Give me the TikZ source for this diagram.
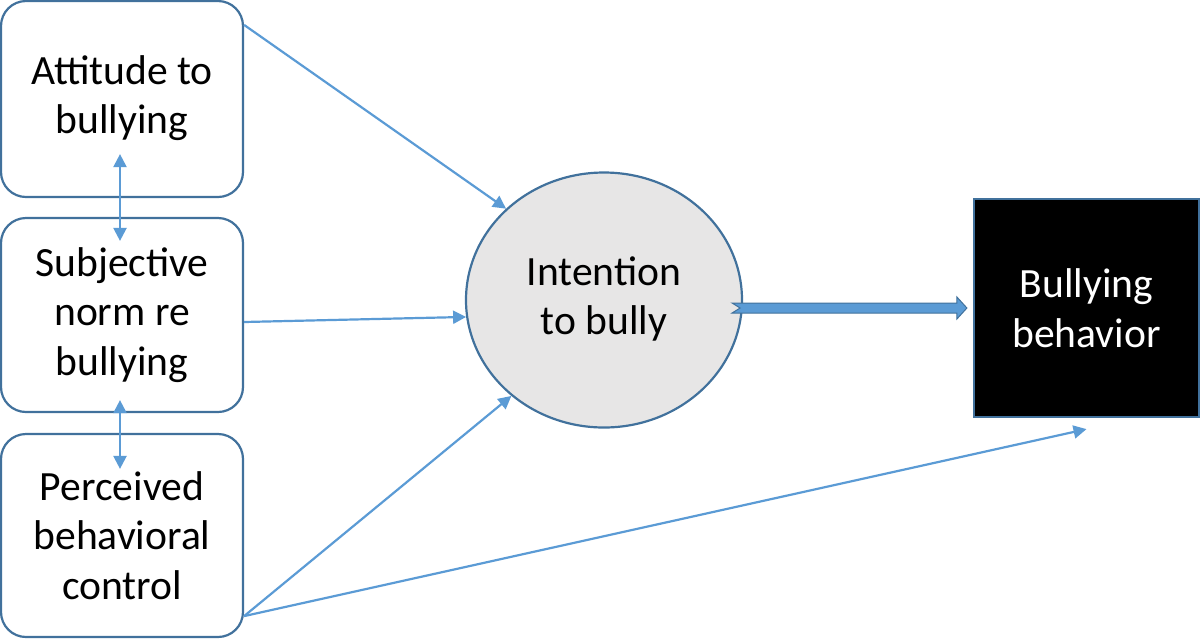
\documentclass[tikz,border=0pt]{standalone}
\usepackage{fontspec}
\setmainfont{Carlito}
\usetikzlibrary{shapes.geometric,arrows.meta,calc}
\definecolor{lineblue}{HTML}{5B9BD5}
\definecolor{borderblue}{HTML}{41719C}
\definecolor{circfill}{HTML}{E7E6E6}
\begin{document}
\begin{tikzpicture}[x=0.5pt,y=-0.5pt,
  font=\fontsize{20.8}{24.7}\selectfont,
  sbox/.style={draw=borderblue,line width=1.1pt,rounded corners=12.5pt,
    minimum width=121pt,align=center,inner sep=0pt,fill=white},
  conn/.style={draw=lineblue,line width=1.1pt,-{Triangle[length=6.5pt,width=6.5pt]}},
  dconn/.style={draw=lineblue,line width=1.1pt,{Triangle[length=6.5pt,width=6.5pt]}-{Triangle[length=6.5pt,width=6.5pt]}},
  thick arrow/.style={fill=lineblue,draw=borderblue,line width=0.5pt,line join=miter}
]
\useasboundingbox (0,0) rectangle (1200,639);

\node[sbox,minimum height=98pt] (b1) at (122,99) {\raisebox{-1.5pt}{\begin{tabular}{@{}c@{}}Attitude to\\bullying\end{tabular}}};
\node[sbox,minimum height=97pt] (b2) at (122,315) {Subjective\\norm re\\bullying};
\node[sbox,minimum height=101.5pt] (b3) at (122,535.5) {Perceived\\behavioral\\control};

\node[ellipse,draw=borderblue,line width=1.1pt,fill=circfill,
  minimum width=138pt,minimum height=127.5pt,inner sep=0pt] (int) at (604,300) {\raisebox{-3pt}{\begin{tabular}{@{}c@{}}Intention\\to bully\end{tabular}}};

\node[draw=borderblue,line width=1.1pt,fill=black,text=white,
  minimum width=112.5pt,minimum height=109pt,align=center,inner sep=0pt] (bb) at (1086.5,308) {Bullying\\behavior};

% connectors
\draw[conn] ($(b1.north east)+(0,25)$) -- (int.137);
\draw[conn] ($(b2.east)+(0,7)$) -- (int.187);
\draw[conn] ($(b3.south east)+(0,-22)$) -- (int.226);
\draw[conn] ($(b3.south east)+(0,-22)$) -- ($(bb.south)+(0,11)$);

\draw[dconn] ($(b1.south)+(-2,-44)$) -- ($(b2.north)+(-2,24)$);
\draw[dconn] ($(b2.south)+(-2,-13)$) -- ($(b3.north)+(-2,36)$);

% thick block arrow
\coordinate (t) at ($(int.east)+(-11,8)$);
\coordinate (h) at ($(bb.west)+(-6,0)$);
\path[thick arrow] ($(t)+(0,-5)$) -- ($(t)+(8,0)$) -- ($(t)+(0,5)$)
  -- ($(h)+(-10,5)$) -- ($(h)+(-10,11)$) -- (h) -- ($(h)+(-10,-11)$)
  -- ($(h)+(-10,-5)$) -- cycle;
\end{tikzpicture}
\end{document}
